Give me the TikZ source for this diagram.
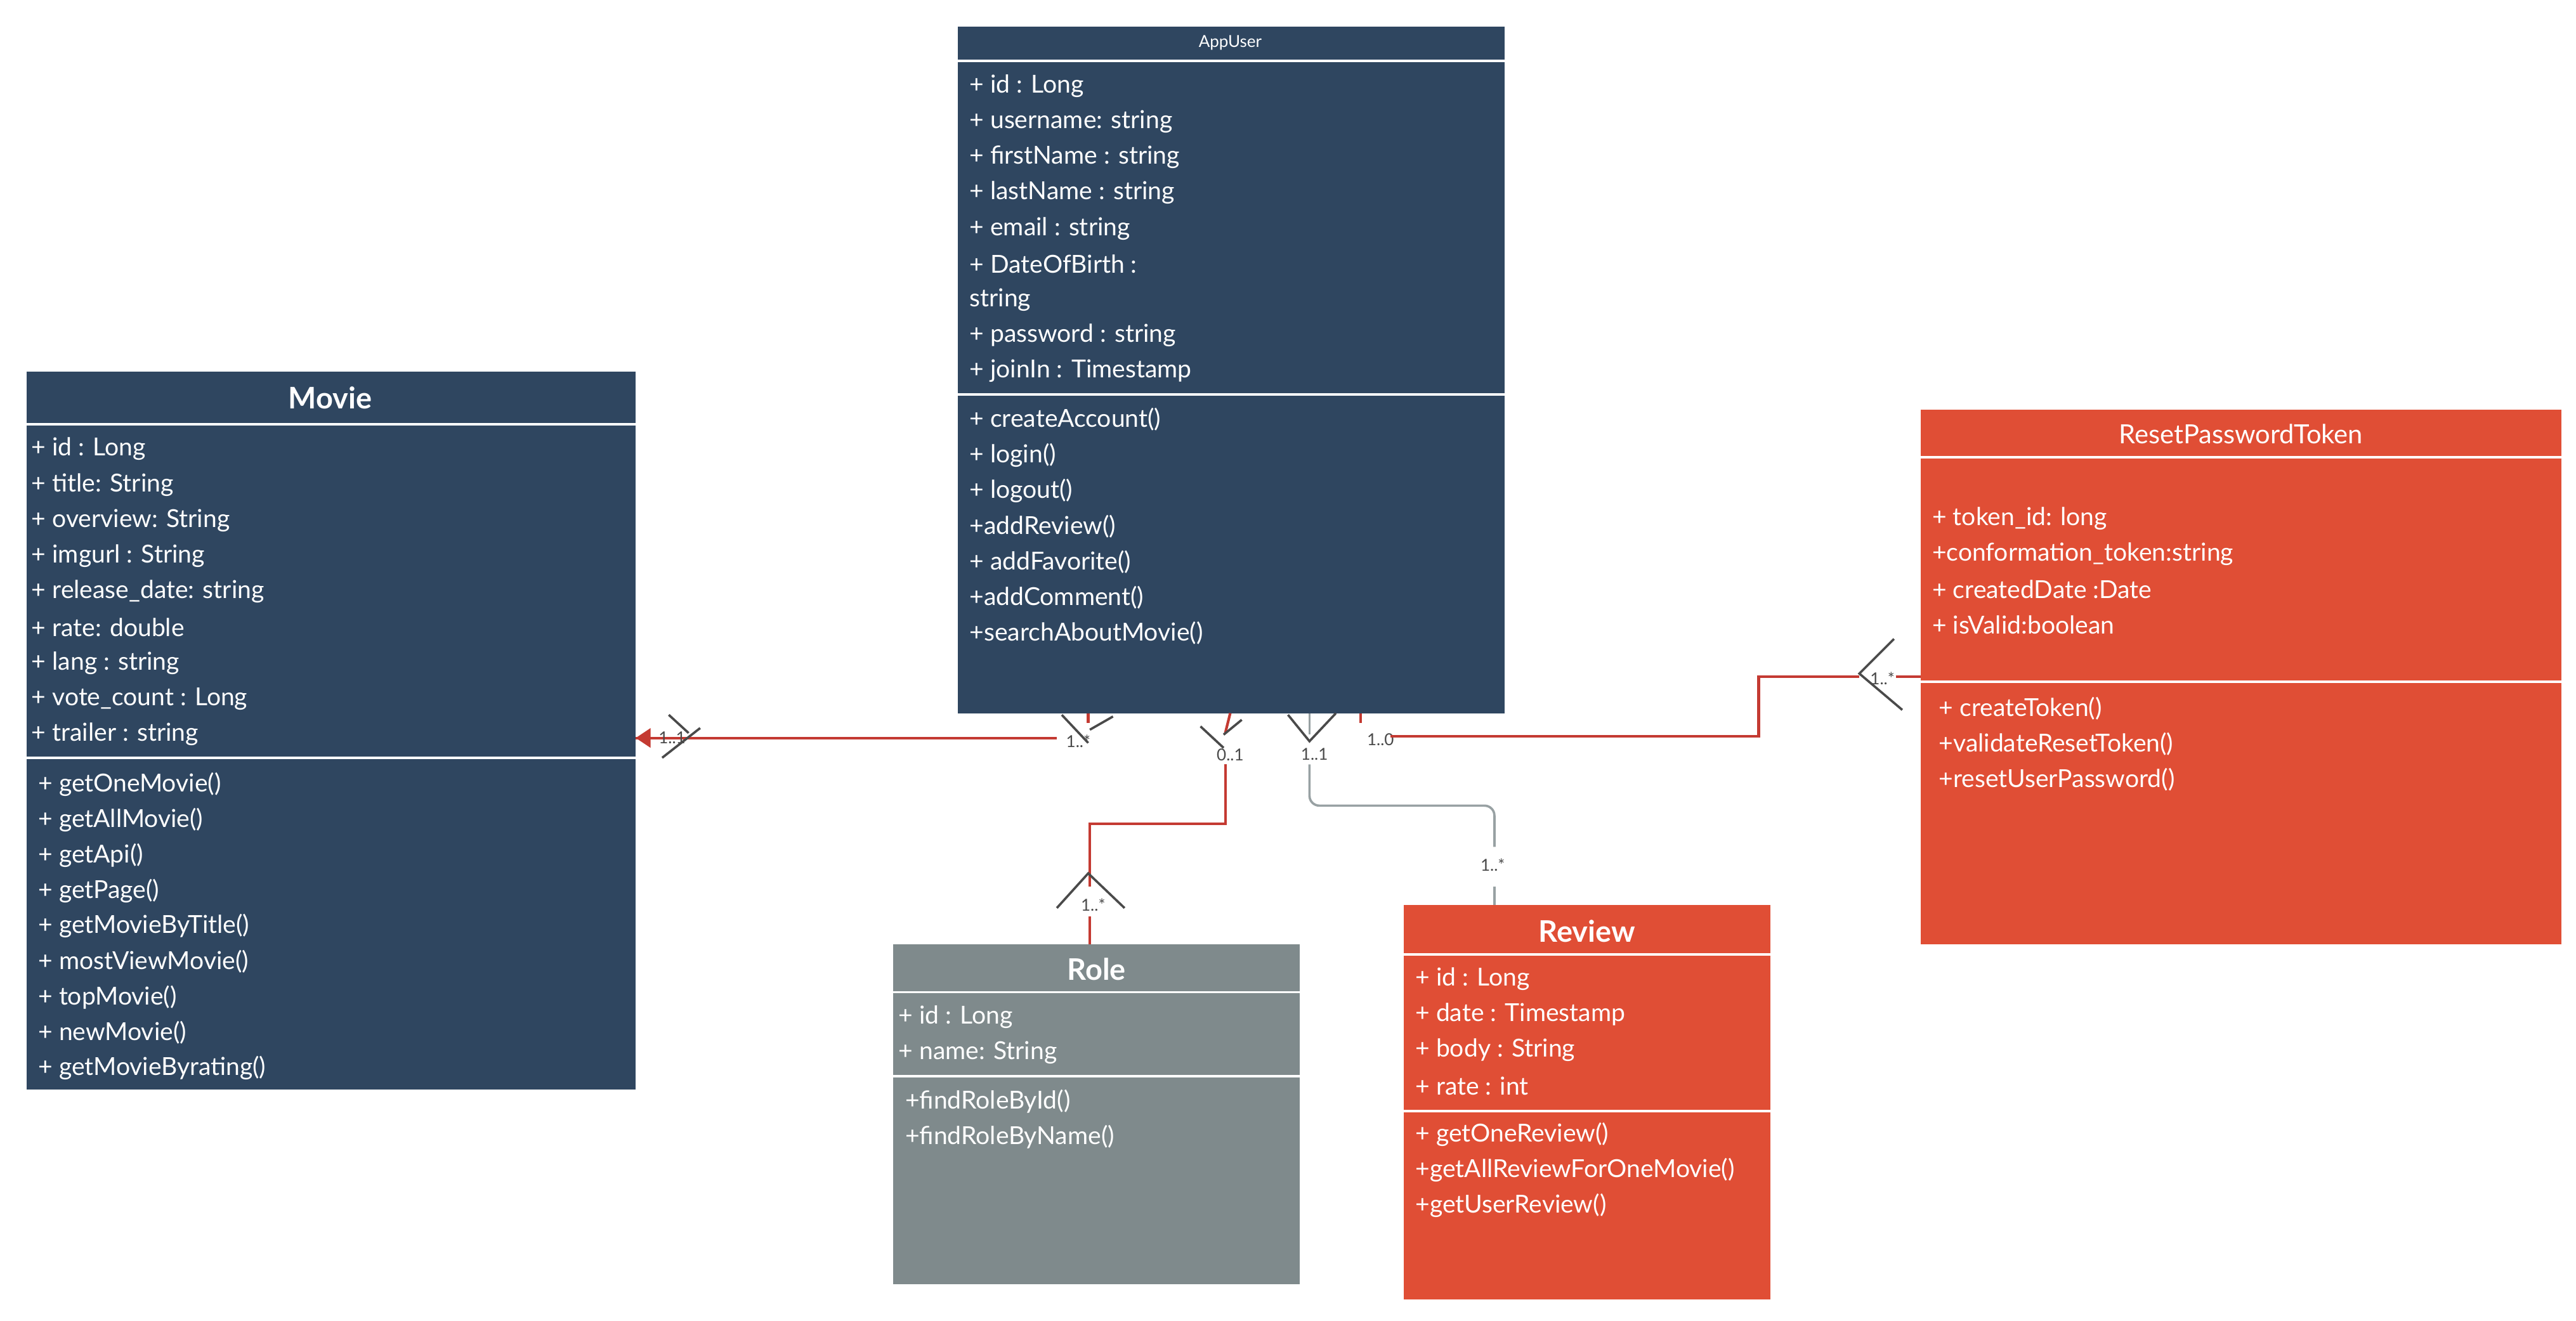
\documentclass[tikz,border=0pt]{standalone}
\usepackage{fontspec}
\setmainfont{Lato}
\usetikzlibrary{positioning}
\definecolor{navy}{HTML}{2F4660}
\definecolor{brick}{HTML}{E04E35}
\definecolor{slate}{HTML}{7F8A8C}
\definecolor{wire}{HTML}{C43A32}
\definecolor{foot}{HTML}{4A4A4A}
\tikzset{
  box/.style={draw=none, inner sep=0, anchor=north west},
  item/.style={anchor=west, inner sep=0, text=white, font=\fontsize{15}{15}\selectfont},
  title/.style={inner sep=0, text=white, font=\fontsize{18}{18}\selectfont\bfseries},
  sep/.style={white, line width=1.5pt},
  link/.style={wire, line width=1.6pt},
  crow/.style={foot, line width=1.4pt},
  mult/.style={inner sep=0, text=foot, font=\fontsize{10}{10}\selectfont}
}
\begin{document}
\begin{tikzpicture}[x=1pt, y=-1pt]
    \useasboundingbox (0,0) rectangle (1560,800);
    %Boxes
    \fill[navy] (580,16) rectangle (911,432) coordinate (appuserSE);
    \fill[navy] (16,225) rectangle (385,660);
    \fill[slate] (541,572) rectangle (787,778);
    \fill[brick] (850,548) rectangle (1072,787);
    \fill[brick] (1163,248) rectangle (1551,572);
    \coordinate (appuser) at (745,432);
    \coordinate (movie) at (385,447);
    \coordinate (role) at (660,572);
    \coordinate (review) at (905,548);
    \coordinate (token) at (1163,410);
    %Titles
    \node[inner sep=0, text=white, font=\fontsize{10}{10}\selectfont] (appuserT) at (745,26) {AppUser};
    \node[title] (movieT) at (200,241) {Movie};
    \node[title] (roleT) at (664,587) {Role};
    \node[title] (reviewT) at (961,564) {Review};
    \node[inner sep=0, text=white, font=\fontsize{16}{16}\selectfont] (tokenT) at (1357,263) {ResetPasswordToken};
    %Separators
    \draw[sep] (580,37) -- (911,37);  \draw[sep] (580,239) -- (911,239);
    \draw[sep] (16,257) -- (385,257); \draw[sep] (16,459) -- (385,459);
    \draw[sep] (541,601) -- (787,601); \draw[sep] (541,652) -- (787,652);
    \draw[sep] (850,578) -- (1072,578); \draw[sep] (850,673) -- (1072,673);
    \draw[sep] (1163,277) -- (1551,277); \draw[sep] (1163,413) -- (1551,413);
    %Members
    \foreach \t [count=\i from 0] in {{+ id : Long},{+ username: string},{+ firstName : string},{+ lastName : string},{+ email : string},{+ DateOfBirth :},{string},{+ password : string},{+ joinIn : Timestamp}}
        \node[item] (ua\i) at (587,52+21.6*\i) {\t};
    \foreach \t [count=\i from 0] in {{+ createAccount()},{+ login()},{+ logout()},{+addReview()},{+ addFavorite()},{+addComment()},{+searchAboutMovie()}}
        \node[item] (um\i) at (587,254+21.6*\i) {\t};
    \foreach \t [count=\i from 0] in {{+ id : Long},{+ title: String},{+ overview: String},{+ imgurl : String},{+ release\_date: string},{+ rate: double},{+ lang : string},{+ vote\_count : Long},{+ trailer : string}}
        \node[item] (ma\i) at (19,272+21.6*\i) {\t};
    \foreach \t [count=\i from 0] in {{+ getOneMovie()},{+ getAllMovie()},{+ getApi()},{+ getPage()},{+ getMovieByTitle()},{+ mostViewMovie()},{+ topMovie()},{+ newMovie()},{+ getMovieByrating()}}
        \node[item] (mm\i) at (23,475+21.5*\i) {\t};
    \foreach \t [count=\i from 0] in {{+ id : Long},{+ name: String}}
        \node[item] (ra\i) at (544,616+21.6*\i) {\t};
    \foreach \t [count=\i from 0] in {{+findRoleById()},{+findRoleByName()}}
        \node[item] (rm\i) at (548,667+21.6*\i) {\t};
    \foreach \t [count=\i from 0] in {{+ id : Long},{+ date : Timestamp},{+ body : String},{+ rate : int}}
        \node[item] (va\i) at (857,593+21.6*\i) {\t};
    \foreach \t [count=\i from 0] in {{+ getOneReview()},{+getAllReviewForOneMovie()},{+getUserReview()}}
        \node[item] (vm\i) at (857,687+21.6*\i) {\t};
    \foreach \t [count=\i from 0] in {{+ token\_id: long},{+conformation\_token:string},{+ createdDate :Date},{+ isValid:boolean}}
        \node[item] (ta\i) at (1170,314+21.5*\i) {\t};
    \foreach \t [count=\i from 0] in {{+ createToken()},{+validateResetToken()},{+resetUserPassword()}}
        \node[item] (tm\i) at (1174,429+21.6*\i) {\t};
    %Movie - AppUser
        \draw[link] (659,432) -- (659,438);
        \draw[link] (640,447) -- (movie);
        \fill[wire] (385,447) -- (394,441) -- (394,453) -- cycle;
        \draw[crow] (643,433) -- (659,450) (674,434) -- (660,442);
        \draw[crow] (405,433) -- (417,444) (401,459) -- (424,441);
        \node[mult] (m1) at (653,449) {1..*};
        \node[mult] (m2) at (407,447) {1..1};
    %Role - AppUser
        \draw[link] (appuser) -- (742,444);
        \draw[crow] (727,440) -- (741,453) (752,436) -- (741,445);
        \node[mult] (r1) at (745,457) {0..1};
        \draw[link] (742,463) -- (742,499) -- (660,499) -- (660,537);
        \draw[link] (660,555) -- (role);
        \draw[crow] (640,550) -- (659,529) -- (681,550);
        \node[mult] (r2) at (662,548) {1..*};
    %Review - AppUser
        \draw[slate!80, line width=1.4pt] (793,432) -- (793,445);
        \draw[crow] (780,433) -- (793,449) -- (809,432);
        \node[mult] (v1) at (796,457) {1..1};
        \draw[slate!80, line width=1.4pt, rounded corners=6pt] (793,463) -- (793,488) -- (905,488) -- (905,513);
        \node[mult] (v2) at (904,524) {1..*};
        \draw[slate!80, line width=1.4pt] (905,537) -- (review);
    %Token - AppUser
        \draw[link] (824,432) -- (824,438);
        \node[mult] (t1) at (836,448) {1..0};
        \draw[link] (842,446) -- (1065,446) -- (1065,410) -- (1126,410);
        \draw[link] (1148,410) -- (token);
        \draw[crow] (1147,387) -- (1126,408) -- (1152,430);
        \node[mult] (t2) at (1140,411) {1..*};
\end{tikzpicture}
\end{document}
